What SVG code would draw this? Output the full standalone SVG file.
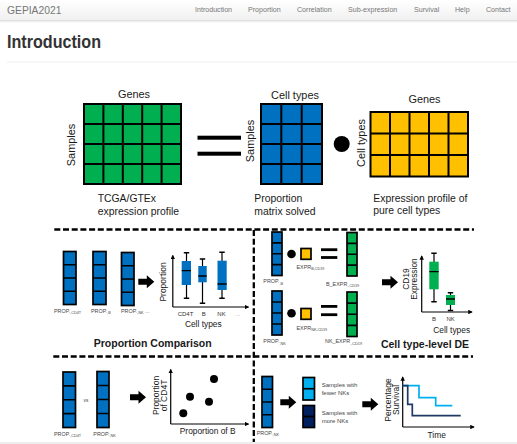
<svg xmlns="http://www.w3.org/2000/svg" width="517" height="444" viewBox="0 0 517 444">
<style>
text{font-family:"Liberation Sans",Arial,sans-serif;fill:#1a1a1a}
.nav{font-size:7.1px;fill:#777}
.lbl{font-size:10.9px}
.cap{font-size:10.4px}
.ax{font-size:8.4px}
.tk{font-size:6px;fill:#333}
.sm{font-size:5.4px;fill:#444}
.sub{font-size:3.8px}
.ttl{font-size:10.5px;font-weight:bold}
.m{stroke:#000;stroke-width:2}
.c{stroke:#000;stroke-width:1.7}
.g{fill:#00b050}.b{fill:#0070c0}.y{fill:#ffc000}.lb{fill:#00b0f0}.nv{fill:#002060}
.axis{stroke:#000;stroke-width:1.2;fill:none;marker-end:url(#ah)}
.wk{stroke:#000;stroke-width:1.2;fill:none}
.cp{stroke:#000;stroke-width:1.6}
.md{stroke:#000;stroke-width:1.3}
.dash{stroke:#000;stroke-width:2.3;stroke-dasharray:6 2.7;fill:none}
</style>
<defs>
<linearGradient id="nb" x1="0" y1="0" x2="0" y2="1"><stop offset="0" stop-color="#ffffff"/><stop offset="1" stop-color="#f0f0f0"/></linearGradient>
<marker id="ah" viewBox="0 0 6 6" refX="5" refY="3" markerWidth="4.5" markerHeight="4.5" markerUnits="userSpaceOnUse" orient="auto"><path d="M0,0 L6,3 L0,6 z" fill="#000"/></marker>
<path id="arr" d="M0,-3 H8.5 V-6.5 L16,0 L8.5,6.5 V3 H0 Z" fill="#000"/>
</defs>
<rect width="517" height="444" fill="#fff"/>
<g id="navbar">
<rect x="0" y="0" width="517" height="20.5" fill="url(#nb)"/>
<line x1="0" y1="20.8" x2="517" y2="20.8" stroke="#d6d6d6" stroke-width="1"/>
<line x1="0" y1="21.8" x2="517" y2="21.8" stroke="#eeeeee" stroke-width="1"/>
<text x="7" y="14" style="font-size:10.3px;fill:#777">GEPIA2021</text>
<text class="nav" x="195" y="12.4">Introduction</text>
<text class="nav" x="248" y="12.4">Proportion</text>
<text class="nav" x="297" y="12.4">Correlation</text>
<text class="nav" x="348" y="12.4">Sub-expression</text>
<text class="nav" x="414" y="12.4">Survival</text>
<text class="nav" x="455" y="12.4">Help</text>
<text class="nav" x="486" y="12.4">Contact</text>
</g>
<g id="heading">
<text x="7" y="47.5" textLength="94" lengthAdjust="spacingAndGlyphs" style="font-size:18px;font-weight:bold;fill:#333">Introduction</text>
<line x1="7" y1="62" x2="517" y2="62" stroke="#eeeeee" stroke-width="1"/>
</g>
<g id="expr-matrix">
<rect class="m g" x="84" y="104" width="97" height="80"/>
<path class="m" d="M103.4,104V184M122.8,104V184M142.2,104V184M161.6,104V184M84,124H181M84,144H181M84,164H181"/>
<text class="lbl" x="134" y="98" text-anchor="middle">Genes</text>
<text class="lbl" transform="translate(74.5,145) rotate(-90)" text-anchor="middle">Samples</text>
<text class="cap" x="97.7" y="202">TCGA/GTEx</text>
<text class="cap" x="97.7" y="215">expression profile</text>
</g>
<g id="equals">
<rect x="197.5" y="135.7" width="43.5" height="4" fill="#000"/>
<rect x="197.5" y="151.7" width="43.5" height="4" fill="#000"/>
</g>
<g id="prop-matrix">
<rect class="m b" x="261" y="104" width="61" height="80"/>
<path class="m" d="M281.3,104V184M301.7,104V184M261,124H322M261,144H322M261,164H322"/>
<text class="lbl" x="295" y="99" text-anchor="middle">Cell types</text>
<text class="lbl" transform="translate(253.5,141) rotate(-90)" text-anchor="middle">Samples</text>
<text class="cap" x="254.3" y="202">Proportion</text>
<text class="cap" x="254.3" y="215">matrix solved</text>
</g>
<g id="dot">
<circle cx="341.7" cy="144" r="8" fill="#000"/>
</g>
<g id="pure-matrix">
<rect class="m y" x="370.5" y="112" width="97.5" height="64.5"/>
<path class="m" d="M390,112V176.5M409.5,112V176.5M429,112V176.5M448.5,112V176.5M370.5,133.5H468M370.5,155H468"/>
<text class="lbl" x="424.5" y="102.7" text-anchor="middle">Genes</text>
<text class="lbl" transform="translate(364.5,143) rotate(-90)" text-anchor="middle">Cell types</text>
<text class="cap" x="373.3" y="201.7">Expression profile of</text>
<text class="cap" x="373.3" y="214.3">pure cell types</text>
</g>
<g id="connectors">
<path class="dash" d="M54.3,229.5H474"/>
<path class="dash" d="M53.3,356.5H473"/>
<path class="dash" d="M253.8,230V444"/>
<use href="#arr" x="138.3" y="281.7"/>
<use href="#arr" x="382" y="282.2"/>
<use href="#arr" x="130" y="397.3"/>
<use href="#arr" x="280.3" y="402.3"/>
<use href="#arr" x="362.3" y="404.3"/>
</g>
<g id="proportion-comparison">
<rect class="c b" x="63.5" y="251.5" width="12.5" height="53"/>
<path class="c" d="M63.5,264.75H76M63.5,278H76M63.5,291.25H76"/>
<rect class="c b" x="93" y="251.5" width="13" height="53"/>
<path class="c" d="M93,264.75H106M93,278H106M93,291.25H106"/>
<rect class="c b" x="121.5" y="252.5" width="12.5" height="53"/>
<path class="c" d="M121.5,265.75H134M121.5,279H134M121.5,292.25H134"/>
<text class="sm" x="54" y="312.5">PROP.<tspan class="sub" dy="1.3">,CD4T</tspan></text>
<text class="sm" x="91" y="312.5">PROP.<tspan class="sub" dy="1.3">,B</tspan></text>
<text class="sm" x="121" y="312.5">PROP.<tspan class="sub" dy="1.3">,NK</tspan><tspan dy="-1.3"> ...</tspan></text>
<path class="axis" d="M172.8,307V255.5"/>
<path class="axis" d="M172.8,307H248.5"/>
<path class="wk" d="M186.5,252.7V298.3M202.5,259V303.3M222,252.3V298.3"/>
<path class="cp" d="M183.8,252.7H189.2M183.8,298.3H189.2M199.8,259H205.2M199.8,303.3H205.2M219.3,252.3H224.7M219.3,298.3H224.7"/>
<rect class="b" x="181.7" y="261" width="9.3" height="24"/>
<rect class="b" x="198.3" y="266" width="8.4" height="16.3"/>
<rect class="b" x="217.5" y="260.7" width="9.2" height="29.3"/>
<path class="md" d="M181.7,270.7H191M198.3,276H206.7M217.5,284H226.7"/>
<text class="ax" transform="translate(165.5,282) rotate(-90)" text-anchor="middle" style="font-size:8.5px">Proportion</text>
<text class="tk" x="185.5" y="315.7" text-anchor="middle">CD4T</text>
<text class="tk" x="203.7" y="315.7" text-anchor="middle">B</text>
<text class="tk" x="221.5" y="315.7" text-anchor="middle">NK</text>
<text class="tk" x="238" y="315.7" text-anchor="middle" style="fill:#999">...</text>
<text class="ax" x="203.3" y="327" text-anchor="middle">Cell types</text>
<text class="ttl" x="152.7" y="347.3" text-anchor="middle">Proportion Comparison</text>
</g>
<g id="celltype-de">
<rect class="c b" x="272" y="232" width="10" height="43.5"/>
<path class="c" d="M272,242.9H282M272,253.75H282M272,264.6H282"/>
<circle cx="291.5" cy="254" r="4.3" fill="#000"/>
<rect class="c y" x="301" y="248.5" width="10" height="10.8"/>
<rect x="321" y="248.3" width="16.3" height="2.8" fill="#000"/>
<rect x="321" y="256.1" width="16.3" height="2.8" fill="#000"/>
<rect class="c g" x="347" y="232.5" width="10" height="43.5"/>
<path class="c" d="M347,243.4H357M347,254.25H357M347,265.1H357"/>
<text class="sm" x="296.5" y="269">EXPR<tspan class="sub" dy="1.3">B,CD19</tspan></text>
<text class="sm" x="263.3" y="283.3">PROP.<tspan class="sub" dy="1.3">,B</tspan></text>
<text class="sm" x="326" y="285.5">B_EXPR<tspan class="sub" dy="1.3">.,CD19</tspan></text>
<rect class="c b" x="272" y="291" width="10" height="44"/>
<path class="c" d="M272,302H282M272,313H282M272,324H282"/>
<circle cx="291.5" cy="313.3" r="4.3" fill="#000"/>
<rect class="c y" x="301" y="308.5" width="10" height="10.8"/>
<rect x="321" y="305" width="16.3" height="2.8" fill="#000"/>
<rect x="321" y="313.3" width="16.3" height="2.8" fill="#000"/>
<rect class="c g" x="347" y="292" width="10" height="44.5"/>
<path class="c" d="M347,303.1H357M347,314.25H357M347,325.4H357"/>
<text class="sm" x="296.5" y="330">EXPR<tspan class="sub" dy="1.3">NK,CD19</tspan></text>
<text class="sm" x="263.3" y="343.3">PROP.<tspan class="sub" dy="1.3">,NK</tspan></text>
<text class="sm" x="325" y="343.3">NK_EXPR<tspan class="sub" dy="1.3">.,CD19</tspan></text>
<path class="axis" d="M421.7,312V256"/>
<path class="axis" d="M421.7,312H472"/>
<path class="wk" d="M434,253.3V301.7M450.5,292.7V311"/>
<path class="cp" d="M431.3,253.3H436.7M431.3,301.7H436.7M447.8,292.7H453.2M447.8,310.5H453.2"/>
<rect class="g" x="429.3" y="261.7" width="9.4" height="27.6"/>
<rect class="g" x="446" y="295" width="9" height="10"/>
<path class="md" d="M429.3,271.7H438.7M446,299H455"/>
<text class="ax" transform="translate(408.5,279) rotate(-90)" text-anchor="middle">CD19</text>
<text class="ax" transform="translate(416.5,279) rotate(-90)" text-anchor="middle">Expression</text>
<text class="tk" x="434" y="320.7" text-anchor="middle">B</text>
<text class="tk" x="450.7" y="320.7" text-anchor="middle">NK</text>
<text class="ax" x="451.7" y="333" text-anchor="middle">Cell types</text>
<text class="ttl" x="425" y="348.3" text-anchor="middle">Cell type-level DE</text>
</g>
<g id="correlation">
<rect class="c b" x="63" y="372" width="12.5" height="55.5"/>
<path class="c" d="M63,385.9H75.5M63,399.75H75.5M63,413.6H75.5"/>
<rect class="c b" x="97" y="371.5" width="12" height="56"/>
<path class="c" d="M97,385.5H109M97,399.5H109M97,413.5H109"/>
<text class="sm" x="83.5" y="402.3" style="font-size:4.8px">vs</text>
<text class="sm" x="54" y="435.5">PROP.<tspan class="sub" dy="1.3">,CD4T</tspan></text>
<text class="sm" x="93.3" y="435.5">PROP.<tspan class="sub" dy="1.3">,NK</tspan></text>
<path class="axis" d="M170.7,424V369.5"/>
<path class="axis" d="M170.7,424H248.5"/>
<circle cx="214" cy="379" r="4" fill="#000"/>
<circle cx="190" cy="396.7" r="4" fill="#000"/>
<circle cx="209" cy="401.7" r="4" fill="#000"/>
<circle cx="183.3" cy="413.3" r="4" fill="#000"/>
<text class="ax" transform="translate(159,395.5) rotate(-90)" text-anchor="middle" style="font-size:8.5px">Proportion</text>
<text class="ax" transform="translate(167,395.5) rotate(-90)" text-anchor="middle" style="font-size:8.5px">of CD4T</text>
<text class="ax" x="207.7" y="434" text-anchor="middle">Proportion of B</text>
</g>
<g id="survival">
<rect class="c b" x="262" y="376.5" width="10.5" height="51"/>
<path class="c" d="M262,389.25H272.5M262,402H272.5M262,414.75H272.5"/>
<text class="sm" x="256.7" y="435">PROP.<tspan class="sub" dy="1.3">,NK</tspan></text>
<rect class="c lb" x="303" y="377.5" width="11.5" height="22.5"/>
<path class="c" d="M303,388.75H314.5"/>
<rect class="c nv" x="303" y="405.5" width="11.5" height="22"/>
<path class="c" d="M303,416.5H314.5"/>
<text class="sm" x="321.7" y="387.3" style="font-size:6px">Samples with</text>
<text class="sm" x="321.7" y="395.2" style="font-size:6px">fewer NKs</text>
<text class="sm" x="321.7" y="415" style="font-size:6px">Samples with</text>
<text class="sm" x="321.7" y="422.8" style="font-size:6px">more NKs</text>
<path class="axis" d="M402.7,427V377"/>
<path class="axis" d="M402.7,427H474"/>
<polyline points="402.7,385.7 419,385.7 419,397.7 435.7,397.7 435.7,405.7 452.3,405.7" fill="none" stroke="#00b0f0" stroke-width="1.7"/>
<polyline points="402.7,385.7 407.7,385.7 407.7,404.3 412.3,404.3 412.3,415.7 460.7,415.7" fill="none" stroke="#1f3864" stroke-width="1.7"/>
<text class="ax" transform="translate(391,400) rotate(-90)" text-anchor="middle" style="font-size:8.5px">Percentage</text>
<text class="ax" transform="translate(398.7,400) rotate(-90)" text-anchor="middle" style="font-size:8.5px">Survival</text>
<text class="ax" x="436.7" y="438.3" text-anchor="middle">Time</text>
</g>
<rect x="0" y="442" width="517" height="2" fill="#eeeeee"/>
</svg>
